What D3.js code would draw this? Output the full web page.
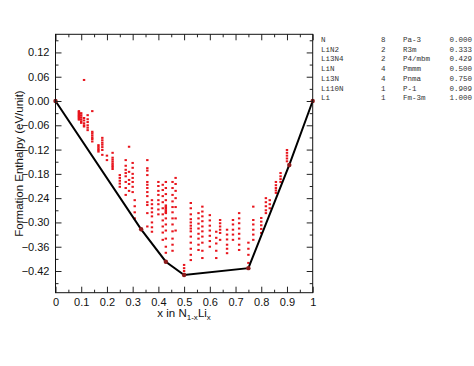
<!DOCTYPE html>
<html>
<head>
<meta charset="utf-8">
<script src="https://cdn.jsdelivr.net/npm/d3@7"></script>
<style>
  body { margin: 0; background: #fff; }
  svg { display: block; }
</style>
</head>
<body>
<div id="display"></div>
<script>
// compositions (x) and the formation enthalpies found at each one
let compX = [0.091, 0.1, 0.111, 0.125, 0.143, 0.167, 0.182, 0.2, 0.222, 0.25,
    0.273, 0.286, 0.3, 0.308, 0.357, 0.375, 0.4, 0.417, 0.429, 0.455,
    0.467, 0.5, 0.526, 0.556, 0.571, 0.6, 0.625, 0.64, 0.667, 0.69, 0.714,
    0.75, 0.769, 0.8, 0.818, 0.833, 0.857, 0.875, 0.9];
let compE = [
    [-0.025, -0.028, -0.031, -0.034, -0.037, -0.040, -0.043, -0.046],
    [-0.030, -0.035, -0.040, -0.045, -0.050, -0.054],
    [0.052, -0.042, -0.048, -0.055, -0.060, -0.063],
    [-0.035, -0.045, -0.052, -0.060, -0.066, -0.072],
    [-0.025, -0.076, -0.080, -0.085, -0.090, -0.094, -0.100],
    [-0.109, -0.113, -0.117, -0.121, -0.125],
    [-0.091, -0.097, -0.103, -0.108, -0.114, -0.121, -0.133],
    [-0.135, -0.146],
    [-0.128, -0.140, -0.145, -0.150, -0.155, -0.159, -0.163, -0.168],
    [-0.183, -0.190, -0.197, -0.204, -0.212],
    [-0.146, -0.160, -0.170, -0.178, -0.186, -0.200, -0.215, -0.232],
    [-0.113, -0.175, -0.195, -0.205, -0.222],
    [-0.153, -0.165, -0.180, -0.190, -0.200, -0.212, -0.225],
    [-0.245, -0.260, -0.275, -0.290],
    [-0.146, -0.166, -0.172, -0.183, -0.200, -0.207, -0.215, -0.225, -0.235, -0.250, -0.257, -0.277, -0.310],
    [-0.245, -0.255, -0.265, -0.275, -0.285, -0.300, -0.312, -0.323],
    [-0.200, -0.210, -0.222, -0.232, -0.245, -0.255, -0.268, -0.280],
    [-0.207, -0.220, -0.235, -0.250, -0.265, -0.280, -0.295, -0.310, -0.325, -0.343],
    [-0.200, -0.215, -0.230, -0.245, -0.258, -0.262, -0.266, -0.270, -0.274, -0.277, -0.290, -0.305, -0.320, -0.340, -0.360, -0.375],
    [-0.200, -0.215, -0.232, -0.248, -0.262, -0.275, -0.290, -0.305, -0.322, -0.340, -0.355, -0.370],
    [-0.190, -0.205, -0.222, -0.240, -0.262, -0.290, -0.320],
    [-0.405, -0.413, -0.420, -0.427],
    [-0.252, -0.265, -0.280, -0.292, -0.300, -0.308, -0.315, -0.322, -0.335, -0.350, -0.365, -0.380, -0.393],
    [-0.277, -0.290, -0.303, -0.315, -0.328, -0.340, -0.355, -0.368],
    [-0.261, -0.273, -0.285, -0.297, -0.310, -0.322, -0.335, -0.350, -0.370, -0.388],
    [-0.282, -0.295, -0.308, -0.320, -0.333, -0.346, -0.360],
    [-0.323, -0.338, -0.352, -0.370, -0.388],
    [-0.294, -0.302, -0.310, -0.318, -0.326, -0.343],
    [-0.318, -0.330, -0.342, -0.355, -0.365, -0.376],
    [-0.294, -0.305, -0.318, -0.330, -0.343],
    [-0.277, -0.290, -0.302, -0.315, -0.328, -0.340, -0.355, -0.368],
    [-0.350, -0.365, -0.380, -0.400],
    [-0.261, -0.294, -0.305, -0.318, -0.330, -0.343],
    [-0.289, -0.298, -0.307, -0.316, -0.326],
    [-0.240, -0.250, -0.260, -0.270, -0.277],
    [-0.245, -0.255, -0.265],
    [-0.200, -0.208, -0.215, -0.221, -0.227],
    [-0.178, -0.186, -0.193, -0.200],
    [-0.121, -0.128, -0.135, -0.142, -0.149]
];

// convex hull vertices
let hullX = [0, 0.333, 0.429, 0.5, 0.75, 0.909, 1];
let hullE = [0, -0.317, -0.397, -0.430, -0.413, -0.158, 0];

// stable phases table
let phaseNames = ['N', 'LiN2', 'Li3N4', 'LiN', 'Li3N', 'Li10N', 'Li'];
let phaseAtoms = [8, 2, 2, 4, 4, 1, 1];
let phaseGroups = ['Pa-3', 'R3m', 'P4/mbm', 'Pmmm', 'Pnma', 'P-1', 'Fm-3m'];
let phaseX = ['0.000', '0.333', '0.429', '0.500', '0.750', '0.909', '1.000'];

// ticks
let xMajor = [0, 0.1, 0.2, 0.3, 0.4, 0.5, 0.6, 0.7, 0.8, 0.9, 1];
let xMinor = [0.05, 0.15, 0.25, 0.35, 0.45, 0.55, 0.65, 0.75, 0.85, 0.95];
let yMajor = [0.12, 0.06, 0, -0.06, -0.12, -0.18, -0.24, -0.30, -0.36, -0.42];
let yMinor = [0.15, 0.09, 0.03, -0.03, -0.09, -0.15, -0.21, -0.27, -0.33, -0.39, -0.45];

let W = 474, H = 366;
let margin = {left: 55.5, right: 312.7, top: 34.3, bottom: 292.7};

let svg = d3.select('#display')
    .append('svg')
        .attr('width', W)
        .attr('height', H)
        .style('font-family', 'Liberation Sans, Arial, sans-serif');

let x = d3.scaleLinear().domain([0, 1]).range([margin.left, margin.right]);
let y = d3.scaleLinear().domain([-0.4736, 0.1648]).range([margin.bottom, margin.top]);

// points
let pts = [];
compX.forEach((cx, i) => compE[i].forEach(e => pts.push([cx, e])));

svg.append('g')
    .selectAll('rect')
    .data(pts)
    .enter()
    .append('rect')
        .attr('x', d => x(d[0]) - 1.2)
        .attr('y', d => y(d[1]) - 1)
        .attr('width', 2.4)
        .attr('height', 2)
        .attr('fill', '#e8141c');

// hull
let hull = hullX.map((d, i) => [d, hullE[i]]);
svg.append('path')
    .datum(hull)
    .attr('d', d3.line().x(d => x(d[0])).y(d => y(d[1])))
    .attr('fill', 'none')
    .attr('stroke', '#000')
    .attr('stroke-width', 2);
svg.append('g')
    .selectAll('circle')
    .data(hull)
    .enter()
    .append('circle')
        .attr('cx', d => x(d[0]))
        .attr('cy', d => y(d[1]))
        .attr('r', 2.2)
        .attr('fill', '#8b1a1a');

// axes, ticks pointing inward
function styleAxis(g) {
    g.select('.domain').remove();
    g.selectAll('line').attr('stroke', '#222');
    g.selectAll('text').attr('font-size', 11).attr('fill', '#111');
}
svg.append('g').attr('transform', 'translate(0,' + margin.bottom + ')')
    .call(d3.axisBottom(x).tickValues(xMajor).tickSize(-6).tickPadding(6)
        .tickFormat(d => d === 0 || d === 1 ? d3.format('d')(d) : d3.format('.1f')(d)))
    .call(styleAxis);
svg.append('g').attr('transform', 'translate(0,' + margin.bottom + ')')
    .call(d3.axisBottom(x).tickValues(xMinor).tickSize(-3).tickFormat(''))
    .call(styleAxis);
svg.append('g').attr('transform', 'translate(0,' + margin.top + ')')
    .call(d3.axisTop(x).tickValues(xMajor).tickSize(-6).tickFormat(''))
    .call(styleAxis);
svg.append('g').attr('transform', 'translate(0,' + margin.top + ')')
    .call(d3.axisTop(x).tickValues(xMinor).tickSize(-3).tickFormat(''))
    .call(styleAxis);
svg.append('g').attr('transform', 'translate(' + margin.left + ',0)')
    .call(d3.axisLeft(y).tickValues(yMajor).tickSize(-6).tickPadding(6)
        .tickFormat(d3.format('.2f')))
    .call(styleAxis);
svg.append('g').attr('transform', 'translate(' + margin.left + ',0)')
    .call(d3.axisLeft(y).tickValues(yMinor).tickSize(-3).tickFormat(''))
    .call(styleAxis);
svg.append('g').attr('transform', 'translate(' + margin.right + ',0)')
    .call(d3.axisRight(y).tickValues(yMajor).tickSize(-6).tickFormat(''))
    .call(styleAxis);
svg.append('g').attr('transform', 'translate(' + margin.right + ',0)')
    .call(d3.axisRight(y).tickValues(yMinor).tickSize(-3).tickFormat(''))
    .call(styleAxis);

// frame
svg.append('rect')
    .attr('x', margin.left).attr('y', margin.top)
    .attr('width', margin.right - margin.left).attr('height', margin.bottom - margin.top)
    .attr('fill', 'none').attr('stroke', '#111').attr('stroke-width', 1);

// axis titles
svg.append('text')
    .attr('transform', 'translate(23,' + (margin.top + margin.bottom) / 2 + ') rotate(-90)')
    .attr('text-anchor', 'middle')
    .attr('font-size', 11.5)
    .attr('fill', '#111')
    .text('Formation Enthalpy (eV/unit)');

let xt = svg.append('text')
    .attr('x', (margin.left + margin.right) / 2)
    .attr('y', 317)
    .attr('text-anchor', 'middle')
    .attr('font-size', 11.5)
    .attr('fill', '#111');
xt.append('tspan').text('x in N');
xt.append('tspan').attr('font-size', 8).attr('dy', 3).text('1-x');
xt.append('tspan').attr('dy', -3).text('Li');
xt.append('tspan').attr('font-size', 8).attr('dy', 3).text('x');

// phase table
let tbl = svg.append('g')
    .attr('font-family', 'Liberation Mono, DejaVu Sans Mono, monospace')
    .attr('font-size', 7.5)
    .attr('fill', '#333');
phaseNames.forEach((n, i) => {
    let ty = 42 + i * 9.7;
    tbl.append('text').attr('x', 321).attr('y', ty).text(n);
    tbl.append('text').attr('x', 381).attr('y', ty).text(phaseAtoms[i]);
    tbl.append('text').attr('x', 403).attr('y', ty).text(phaseGroups[i]);
    tbl.append('text').attr('x', 472).attr('y', ty).attr('text-anchor', 'end').text(phaseX[i]);
});
</script>
</body>
</html>
